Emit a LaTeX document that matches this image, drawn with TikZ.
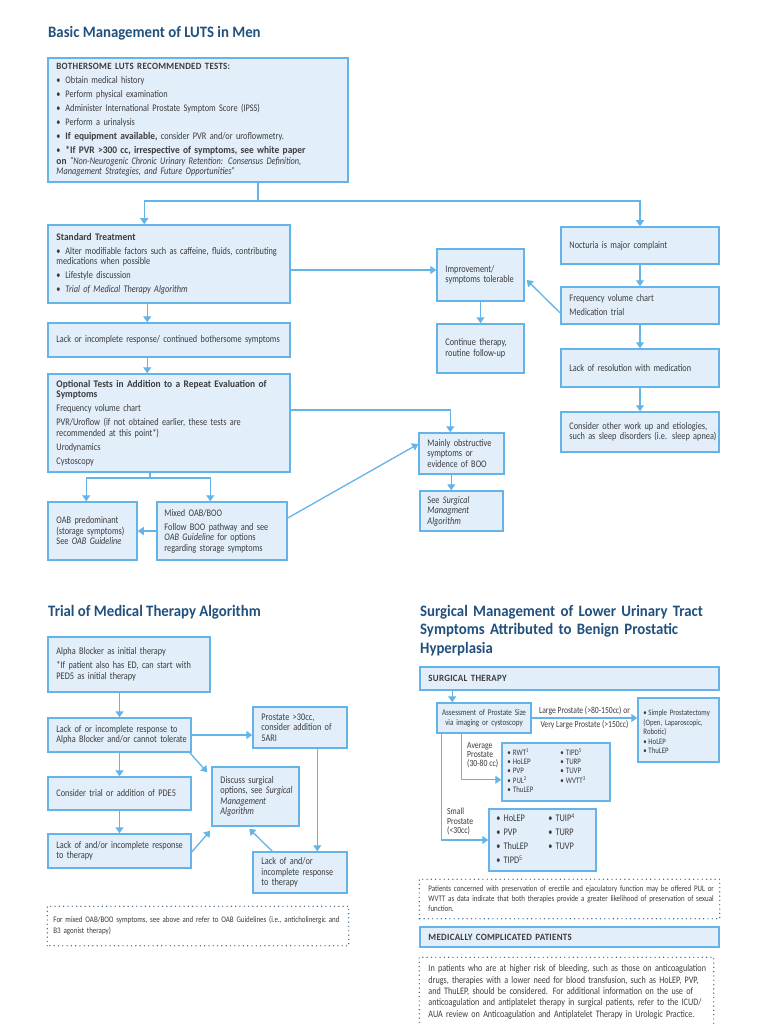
\documentclass[tikz,border=0pt]{standalone}
\usepackage{fontspec}
\setmainfont{Carlito}[FakeStretch=0.82]
\newfontfamily\bfont{Carlito}[FakeStretch=0.93]
\usetikzlibrary{arrows.meta,calc}
\definecolor{bb}{RGB}{100,180,234}
\definecolor{bf}{RGB}{226,238,250}
\definecolor{tx}{RGB}{60,60,60}
\definecolor{tt}{RGB}{33,80,125}
\definecolor{dt}{RGB}{60,95,140}
\newlength\bulw
\setlength\bulw{9pt}
\newcommand\bitem[1]{\par\hangindent=\bulw\hangafter=1\noindent\makebox[\bulw][l]{\textbullet}#1}
\newcommand\sbul{\makebox[5.5pt][l]{\textbullet}}
\newcommand\tb[1]{{\bfont\bfseries #1}}
\newcommand\hdr[1]{{\bfont\bfseries\fontsize{9.6}{10}\selectfont\addfontfeature{LetterSpace=3}#1}}
\newcommand\mybox[8][]{%
  \pgfmathsetmacro\bxw{#6-#4}%
  \pgfmathsetmacro\bxh{#7-#5}%
  \pgfmathsetmacro\bxcx{(#4+#6)/2}%
  \pgfmathsetmacro\bxcy{(#5+#7)/2}%
  \node[box, minimum width=\bxw pt, minimum height=\bxh pt, #1] (#2) at (\bxcx,\bxcy) {};
  \node[btext, #1] (#2-t) at ($(#2.west)+(#3,0)$) {\setlength\parskip{3.5pt}#8};}
\tikzset{
  box/.style={draw=bb, fill=bf, line width=1.5pt, inner sep=0pt},
  btext/.style={anchor=west, inner sep=0pt, text width=400pt, align=left, text=tx, font=\fontsize{10.1}{10.5}\selectfont},
  arr/.style={draw=bb, line width=1.3pt, -{Triangle[width=8pt,length=6pt]}},
  ln/.style={draw=bb, line width=1.3pt},
  ttl/.style={text=tt, font=\bfont\bfseries\fontsize{15.9}{18.5}\selectfont, anchor=base west, inner sep=0pt, align=left},
  dotline/.style={draw=dt, line width=1.4pt, line cap=round, dash pattern=on 0pt off 4.3pt},
  lbl/.style={text=tx, font=\fontsize{9.4}{9.3}\selectfont, inner sep=0pt, align=left, anchor=north west},
  lbltwo/.style={text=tx, font=\fontsize{9.3}{9}\selectfont, inner sep=2pt},
}
\begin{document}
\begin{tikzpicture}[x=1pt,y=-1pt]
\useasboundingbox (0,0) rectangle (768,1024);
\fill[white] (0,0) rectangle (768,1024);

% titles
\node[ttl] (t1) at (48,38) {Basic Management of LUTS in Men};
\node[ttl] (t2) at (48,616) {Trial of Medical Therapy Algorithm};
\node[ttl, text width=320pt] (t3) at (420,616) {Surgical Management of Lower Urinary Tract\\Symptoms Attributed to Benign Prostatic\\Hyperplasia};

% ---------- Basic management ----------
\mybox{box1}{9}{48}{58}{348}{182}{\hdr{BOTHERSOME LUTS RECOMMENDED TESTS:}
\bitem{Obtain medical history}
\bitem{Perform physical examination}
\bitem{Administer International Prostate Symptom Score (IPSS)}
\bitem{Perform a urinalysis}
\bitem{\tb{If equipment available,} consider PVR and/or uroflowmetry.}
\bitem{\tb{*If PVR >300 cc, irrespective of symptoms, see white paper}\\\tb{on} \textit{“Non-Neurogenic Chronic Urinary Retention: Consensus Definition,}\\\textit{Management Strategies, and Future Opportunities”}}}

\mybox{std}{9}{48}{225}{290}{303}{\tb{Standard Treatment}
\bitem{Alter modifiable factors such as caffeine, fluids, contributing\\medications when possible}
\bitem{Lifestyle discussion}
\bitem{\textit{Trial of Medical Therapy Algorithm}}}

\mybox{lack}{9}{48}{323}{290}{357}{Lack or incomplete response/ continued bothersome symptoms}

\mybox{opt}{9}{48}{374}{290}{472}{\tb{Optional Tests in Addition to a Repeat Evaluation of}\\\tb{Symptoms}\par
Frequency volume chart\par
PVR/Uroflow (if not obtained earlier, these tests are\\recommended at this point*)\par
Urodynamics\par
Cystoscopy}

\mybox{oab}{9}{48}{502}{137}{560}{OAB predominant\\(storage symptoms)\\See \textit{OAB Guideline}}
\mybox{mixed}{8}{157}{502}{287}{560}{Mixed OAB/BOO\par Follow BOO pathway and see\\\textit{OAB Guideline} for options\\regarding storage symptoms}

\mybox{imp}{9}{437}{249}{524}{301}{Improvement/\\symptoms tolerable}
\mybox{cont}{9}{437}{324}{524}{373}{Continue therapy,\\routine follow-up}
\mybox{noct}{9}{561}{227}{719}{264}{Nocturia is major complaint}
\mybox{freq}{9}{561}{287}{719}{324}{Frequency volume chart\par Medication trial}
\mybox{lackres}{9}{561}{349}{719}{387}{Lack of resolution with medication}
\mybox{cons}{9}{561}{412}{719}{452}{Consider other work up and etiologies,\\such as sleep disorders (i.e. sleep apnea)}
\mybox{mainly}{9}{419}{433}{504}{474}{Mainly obstructive\\symptoms or\\evidence of BOO}
\mybox{surg}{8}{420}{491}{503}{531}{See \textit{Surgical}\\\textit{Managment}\\\textit{Algorithm}}

\coordinate (j1) at (258,201);
\draw[ln] (box1.south -| j1) -- (j1);
\draw[arr] (j1) -| ($(std.north west)+(97,0)$);
\draw[arr] (j1) -| (noct.north);
\coordinate (s1) at ($(std.east)+(0,6)$);
\draw[arr] (s1) -- (s1 -| imp.west);
\draw[arr] (imp.south) -- (cont.north);
\draw[arr] (noct.south) -- (freq.north);
\draw[arr] ($(freq.west)+(0,7.5)$) -- ($(imp.east)+(2,5)$);
\draw[arr] (freq.south) -- (lackres.north);
\draw[arr] (lackres.south) -- (cons.north);
\draw[arr] ($(std.south west)+(100,0)$) -- ($(lack.north west)+(100,0)$);
\draw[arr] ($(lack.south west)+(100,0)$) -- ($(opt.north west)+(100,0)$);
\draw[arr] ($(opt.east)+(0,-13)$) -| ($(mainly.north west)+(32,0)$);
\draw[arr] ($(mainly.south west)+(33,0)$) -- ($(surg.north west)+(32,0)$);
\coordinate (j2) at (150,478);
\draw[ln] (opt.south -| j2) -- (j2);
\draw[arr] (j2) -| ($(oab.north west)+(39,0)$);
\draw[arr] (j2) -| ($(mixed.north west)+(54,0)$);
\draw[arr] (mixed.west) -- (oab.east);
\draw[arr] ($(mixed.east)+(0,-13)$) -- ($(mainly.west)+(0,-9.5)$);

% ---------- Trial of medical therapy ----------
\mybox{alpha}{9}{48}{637}{210}{692}{Alpha Blocker as initial therapy\par *If patient also has ED, can start with\\PED5 as initial therapy}
\mybox{lackab}{9}{48}{718}{191}{752}{Lack of or incomplete response to\\Alpha Blocker and/or cannot tolerate}
\mybox{pro}{9}{253}{707}{347}{748}{Prostate >30cc,\\consider addition of\\5ARI}
\mybox{disc}{9}{212}{767}{299}{826}{Discuss surgical\\options, see \textit{Surgical}\\\textit{Management}\\\textit{Algorithm}}
\mybox{pde}{9}{48}{777}{191}{810}{Consider trial or addition of PDE5}
\mybox{lacktwo}{9}{48}{834}{191}{868}{Lack of and/or incomplete response\\to therapy}
\mybox{lackthree}{9}{253}{852}{347}{893}{Lack of and/or\\incomplete response\\to therapy}
\mybox[draw=none, fill=none, font=\fontsize{8.5}{11}\selectfont]{dotone}{6}{48}{907}{348}{945}{For mixed OAB/BOO symptoms, see above and refer to OAB Guidelines (i.e., anticholinergic and\\B3 agonist therapy)}
\draw[dotline] (dotone.south west) rectangle (dotone.north east);

\draw[arr] (alpha.south -| lackab.north) -- (lackab.north);
\draw[arr] (lackab.east) -- (lackab.east -| pro.west);
\draw[arr] ($(lackab.south east)+(-2,0)$) -- ($(disc.north west)+(-4,6)$);
\draw[arr] (lackab.south) -- (pde.north);
\draw[arr] (pde.south) -- (lacktwo.north);
\draw[arr] ($(lacktwo.east)+(0,1)$) -- ($(disc.south west)+(-1,4)$);
\draw[arr] ($(pro.south west)+(65,0)$) -- ($(lackthree.north west)+(65,0)$);
\draw[arr] ($(lackthree.north west)+(20,0)$) -- ($(disc.south west)+(38,2)$);

% ---------- Surgical management ----------
\mybox{st}{9}{420}{667}{719}{690}{\hdr{SURGICAL THERAPY}}
\node[box, minimum width=94pt, minimum height=30pt] (assess) at (484,718) {};
\node[btext, anchor=center, text width=94pt, align=center, font=\fontsize{8.7}{10}\selectfont] (assess-t) at (assess.center) {Assessment of Prostate Size\\via imaging or cystoscopy};
\mybox[font=\fontsize{8.3}{9.5}\selectfont]{simple}{6}{638}{698}{719}{762}{\setlength\bulw{5pt}\setlength\parskip{0pt}%
\bitem{Simple Prostatectomy\\(Open, Laparoscopic,\\Robotic)}
\bitem{HoLEP}
\bitem{ThuLEP}}
\mybox[font=\fontsize{8.4}{9.4}\selectfont]{avg}{6}{502}{743}{610}{801}{\begin{tabular}{@{}p{53pt}@{}l@{}}
\sbul RWT\textsuperscript{1} & \sbul TIPD\textsuperscript{5}\\
\sbul HoLEP & \sbul TURP\\
\sbul PVP & \sbul TUVP\\
\sbul PUL\textsuperscript{2} & \sbul WVTT\textsuperscript{3}\\
\sbul ThuLEP & \\
\end{tabular}}
\mybox[font=\fontsize{10.1}{14}\selectfont]{small}{8}{489}{809}{596}{871}{\begin{tabular}{@{}p{52pt}@{}l@{}}
\sbul\,HoLEP & \sbul\,TUIP\textsuperscript{4}\\
\sbul\,PVP & \sbul\,TURP\\
\sbul\,ThuLEP & \sbul\,TUVP\\
\sbul\,TIPD\textsuperscript{5} & \\
\end{tabular}}

\draw[arr] ($(st.south west)+(33,0)$) -- ($(assess.north west)+(16,0)$);
\draw[arr] (assess.east) -- node[lbltwo, above]{Large Prostate (>80-150cc) or} node[lbltwo, below]{Very Large Prostate (>150cc)} (assess.east -| simple.west);
\draw[arr] ($(assess.south west)+(25,0)$) |- ($(avg.south west)+(0,-22)$);
\draw[arr] ($(assess.south west)+(5,0)$) |- (small.west);
\node[lbl] (avglbl) at (467,742) {Average\\Prostate\\(30-80 cc)};
\node[lbl] (smlbl) at (447,808) {Small\\Prostate\\(<30cc)};

\mybox[draw=none, fill=none, font=\fontsize{8.45}{10}\selectfont]{dottwo}{9}{420}{880}{719}{918}{Patients concerned with preservation of erectile and ejaculatory function may be offered PUL or\\WVTT as data indicate that both therapies provide a greater likelihood of preservation of sexual\\function.}
\draw[dotline] (dottwo.south west) rectangle (dottwo.north east);

\mybox{mcp}{9}{420}{927}{719}{947}{\hdr{MEDICALLY COMPLICATED PATIENTS}}

\mybox[draw=none, fill=none, font=\fontsize{9.9}{11.3}\selectfont]{mctext}{9}{420}{958}{713}{1026}{In patients who are at higher risk of bleeding, such as those on anticoagulation\\drugs, therapies with a lower need for blood transfusion, such as HoLEP, PVP,\\and ThuLEP, should be considered. For additional information on the use of\\anticoagulation and antiplatelet therapy in surgical patients, refer to the ICUD/\\AUA review on Anticoagulation and Antiplatelet Therapy in Urologic Practice.}
\draw[dotline] (mctext.south west) -- (mctext.north west) -- (mctext.north east) -- (mctext.south east);
\end{tikzpicture}
\end{document}
